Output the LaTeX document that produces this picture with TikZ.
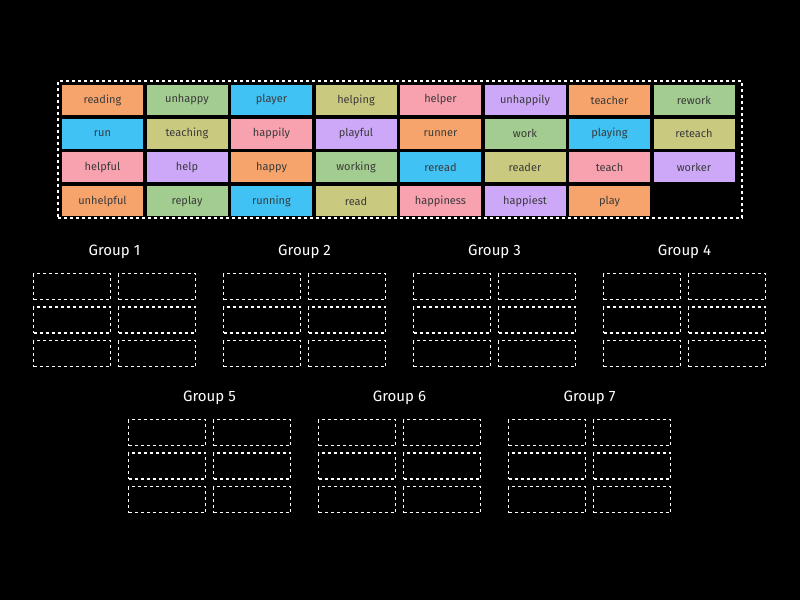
\documentclass[tikz,border=0pt]{standalone}
\usepackage{fontspec}
\setmainfont{Fira Sans}
\definecolor{c0}{HTML}{F7A46C}
\definecolor{c1}{HTML}{A2CC90}
\definecolor{c2}{HTML}{40C2F5}
\definecolor{c3}{HTML}{C9C980}
\definecolor{c4}{HTML}{F8A1AF}
\definecolor{c5}{HTML}{CDA8F8}
\definecolor{txt}{HTML}{3A3A3A}
\tikzset{tile/.style={minimum width=81pt,minimum height=30pt,inner sep=0pt,text=txt,font=\fontsize{11}{13}\selectfont},
slot/.style={draw=white,dashed,line width=1.2pt,minimum width=77pt,minimum height=26pt,inner sep=0pt},
gtitle/.style={text=white,font=\fontsize{15}{18}\selectfont}}
\begin{document}
\begin{tikzpicture}[x=1pt,y=-1pt]
\fill[black] (0,0) rectangle (800,600);
\useasboundingbox (0,0) rectangle (800,600);
\node[draw=white,dashed,line width=1.2pt,minimum width=684pt,minimum height=137pt,inner sep=0pt] (frame) at (400,149.5) {};
\foreach \w [count=\i from 0] in {reading,unhappy,player,helping,helper,unhappily,teacher,rework,run,teaching,happily,playful,runner,work,playing,reteach,helpful,help,happy,working,reread,reader,teach,worker,unhelpful,replay,running,read,happiness,happiest,play}{
  \pgfmathtruncatemacro\r{int(\i/8)}
  \pgfmathtruncatemacro\c{mod(\i,8)}
  \pgfmathtruncatemacro\k{mod(2*\r+\c,6)}
  \pgfmathsetmacro\yy{100+\r*33.7}
  \node[tile,fill=c\k] (t\i) at ({102.5+\c*84.5},\yy) {\w};
}
\foreach \g/\gx/\gy in {1/33/273,2/223/273,3/413/273,4/603/273,5/128/419,6/318/419,7/508/419}{
  \node[gtitle] (g\g) at ({\gx+81.5},{\gy-21}) {Group \g};
  \foreach \rr in {0,1,2}{
    \foreach \cc in {0,1}{
      \node[slot] (s\g-\rr-\cc) at ({\gx+39+\cc*85},{\gy+13.5+\rr*33.5}) {};
    }
  }
}
\end{tikzpicture}
\end{document}
